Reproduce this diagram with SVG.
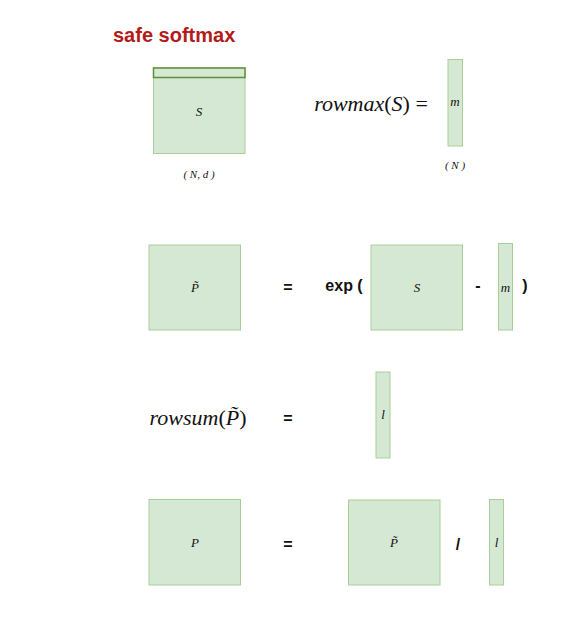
<svg xmlns="http://www.w3.org/2000/svg" width="581" height="637" viewBox="0 0 581 637">
<style>
.m{fill:#d5e8d4;stroke:#a9cf98;stroke-width:1}
.band{fill:#d5e8d4;stroke:#5e8f36;stroke-width:1.5}
.math{font-family:"Liberation Serif","DejaVu Serif",serif;font-style:italic;fill:#111;text-anchor:middle}
.up{font-style:normal}
.lab{font-size:13px}
.big{font-size:22px}
.op{font-family:"Liberation Sans",Arial,sans-serif;font-weight:bold;fill:#111;text-anchor:middle;font-size:16px}
.dim{font-family:"Liberation Serif",serif;font-style:italic;font-size:11px;fill:#111;text-anchor:middle}
</style>
<rect width="581" height="637" fill="#fff"/>
<text x="113" y="42" font-family="Liberation Sans,Arial,sans-serif" font-weight="bold" font-size="20" fill="#b31b1b">safe softmax</text>

<g id="S1">
<rect class="m" x="153.5" y="68" width="91.5" height="85.5"/>
<rect class="band" x="153.5" y="68" width="91.5" height="9.5"/>
<text class="math lab" x="199" y="116">S</text>
<text class="dim" x="199" y="178">( N, d )</text>
</g>
<text class="math big" x="371" y="111">rowmax<tspan class="up">(</tspan>S<tspan class="up">) =</tspan></text>
<g id="m1">
<rect class="m" x="448" y="59.5" width="14.5" height="86.5"/>
<text class="math lab" x="455" y="106">m</text>
<text class="dim" x="455" y="169">( N )</text>
</g>

<g id="Pt1">
<rect class="m" x="149" y="245" width="91.5" height="85"/>
<text class="math lab" x="195" y="292">P̃</text>
</g>
<text class="op" x="288" y="293">=</text>
<text class="op" x="344" y="291">exp (</text>
<g id="S2">
<rect class="m" x="371" y="245" width="91.5" height="85"/>
<text class="math lab" x="417" y="292">S</text>
</g>
<text class="op" x="478" y="291">-</text>
<g id="m2">
<rect class="m" x="498.5" y="243.5" width="14" height="86.5"/>
<text class="math lab" x="505.5" y="292">m</text>
</g>
<text class="op" x="525" y="291">)</text>

<text class="math big" x="198" y="425">rowsum<tspan class="up">(</tspan>P̃<tspan class="up">)</tspan></text>
<text class="op" x="288" y="424">=</text>
<g id="l1">
<rect class="m" x="376" y="372" width="14" height="86"/>
<text class="math lab" x="383" y="419">l</text>
</g>

<g id="P">
<rect class="m" x="149" y="499.5" width="91.5" height="85.5"/>
<text class="math lab" x="195" y="547">P</text>
</g>
<text class="op" x="288" y="550">=</text>
<g id="Pt2">
<rect class="m" x="348.5" y="500" width="91.5" height="85"/>
<text class="math lab" x="394" y="547">P̃</text>
</g>
<text class="op" x="458" y="550" font-size="21">/</text>
<g id="l2">
<rect class="m" x="489.5" y="499.5" width="14" height="85.5"/>
<text class="math lab" x="496.5" y="547">l</text>
</g>
<g id="connectors"></g>
</svg>
